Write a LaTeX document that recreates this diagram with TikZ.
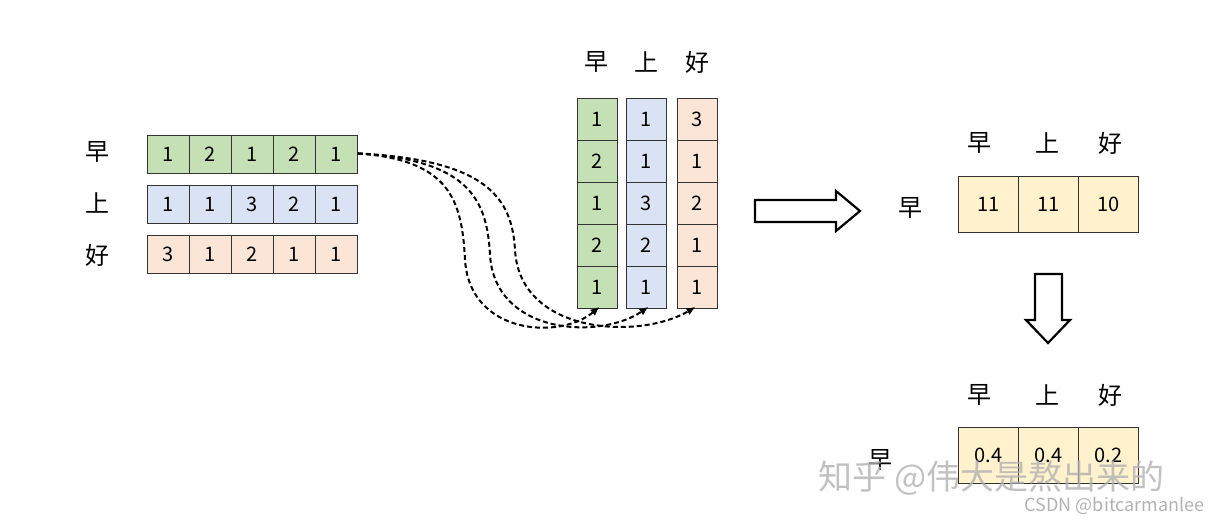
\documentclass[tikz,border=0pt]{standalone}
\usepackage{fontspec}
\setmainfont{Noto Sans CJK SC}
\usetikzlibrary{arrows.meta}
\definecolor{cg}{HTML}{C5E0B4}
\definecolor{cb}{HTML}{DAE3F3}
\definecolor{co}{HTML}{FBE5D6}
\definecolor{cy}{HTML}{FFF2CC}
\begin{document}
\begin{tikzpicture}[x=1pt,y=-1pt,
 cell/.style={draw=black!80,line width=0.9pt,minimum width=42pt,minimum height=38pt,inner sep=0pt,font=\fontsize{20}{20}\selectfont,anchor=north west},
 vcell/.style={draw=black!80,line width=0.9pt,minimum width=40pt,minimum height=42pt,inner sep=0pt,font=\fontsize{20}{20}\selectfont,anchor=north west},
 ycell/.style={draw=black!80,line width=0.9pt,fill=cy,minimum width=60pt,minimum height=56pt,inner sep=0pt,font=\fontsize{20}{20}\selectfont,anchor=north west},
 lab/.style={font=\fontsize{24}{24}\selectfont},
 cur/.style={dash pattern=on 5pt off 3pt,line width=2pt,-{Latex[length=9pt,width=8pt]}},
 big/.style={draw=black,line width=2.2pt,fill=white,line join=miter}]
\useasboundingbox (0,0) rectangle (1215,525);
% left rows
\node[lab] (l1) at (97,152) {早};
\node[lab] (l2) at (97,203) {上};
\node[lab] (l3) at (97,255) {好};
\foreach \v [count=\i] in {1,2,1,2,1}{\node[cell,fill=cg] (a\i) at ({147+42*(\i-1)},135) {\v};}
\foreach \v [count=\i] in {1,1,3,2,1}{\node[cell,fill=cb] (b\i) at ({147+42*(\i-1)},185) {\v};}
\foreach \v [count=\i] in {3,1,2,1,1}{\node[cell,fill=co] (c\i) at ({147+42*(\i-1)},235) {\v};}
% columns
\node[lab] (h1) at (596,62) {早};
\node[lab] (h2) at (646,62) {上};
\node[lab] (h3) at (697,62) {好};
\foreach \v [count=\i] in {1,2,1,2,1}{\node[vcell,fill=cg] (g\i) at (577,{98+42*(\i-1)}) {\v};}
\foreach \v [count=\i] in {1,1,3,2,1}{\node[vcell,fill=cb] (u\i) at (626,{98+42*(\i-1)}) {\v};}
\foreach \v [count=\i] in {3,1,2,1,1}{\node[vcell,fill=co] (o\i) at (677,{98+42*(\i-1)}) {\v};}
% curves
\coordinate (s) at ([yshift=1pt]a5.east);
\draw[cur] (s) .. controls (450,160) and (462,200) .. (465,260) .. controls (470,335) and (560,340) .. ([xshift=2pt,yshift=2pt]g5.south);
\draw[cur] (s) .. controls (470,160) and (487,200) .. (490,255) .. controls (495,335) and (600,340) .. ([xshift=2pt,yshift=2pt]u5.south);
\draw[cur] (s) .. controls (490,160) and (512,200) .. (515,250) .. controls (520,335) and (640,340) .. ([xshift=-2pt,yshift=2pt]o5.south);
% right arrow
\draw[big] (755,200) -- (836,200) -- (836,191) -- (860,211) -- (836,231) -- (836,222) -- (755,222) -- cycle;
% result 1
\node[lab] (r1) at (979,143) {早};
\node[lab] (r2) at (1047,143) {上};
\node[lab] (r3) at (1110,143) {好};
\node[lab] (rl) at (910,208) {早};
\foreach \v [count=\i] in {11,11,10}{\node[ycell] (y\i) at ({958+60*(\i-1)},176) {\v};}
% down arrow
\draw[big] (1035,274) -- (1062,274) -- (1062,320) -- (1070,320) -- (1048,343) -- (1026,320) -- (1035,320) -- cycle;
% result 2
\node[lab] (s1) at (979,395) {早};
\node[lab] (s2) at (1047,395) {上};
\node[lab] (s3) at (1110,395) {好};
\node[lab] (sl) at (880,460) {早};
\foreach \v [count=\i] in {0.4,0.4,0.2}{\node[ycell] (z\i) at ({958+60*(\i-1)},427) {\v};}
% watermark
\node[text=gray!60,font=\fontsize{34}{34}\selectfont,anchor=west,opacity=0.8] (wm) at (815,478) {知乎 @伟大是熬出来的};
\node[text=gray!60,font=\fontsize{18}{18}\selectfont,anchor=east] (wm2) at (1208,506) {CSDN @bitcarmanlee};
\end{tikzpicture}
\end{document}
